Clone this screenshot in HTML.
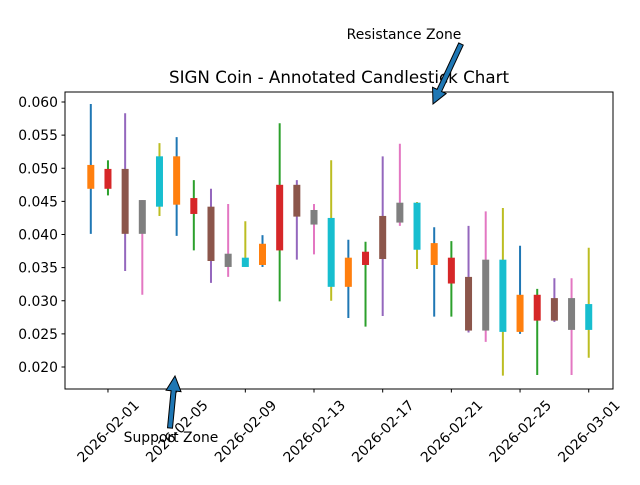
<!DOCTYPE html>
<html><head><meta charset="utf-8"><style>
body{margin:0;background:#fff;}
svg text{font-family:"DejaVu Sans","Liberation Sans",sans-serif;}
</style></head><body>
<svg id="chart" width="640" height="480" viewBox="0 0 640 480" xmlns="http://www.w3.org/2000/svg">
<rect x="0" y="0" width="640" height="480" fill="#fff"/>
<text x="339" y="83" font-size="16.7" text-anchor="middle" fill="#000">SIGN Coin - Annotated Candlestick Chart</text>
<g id="marks"></g>
<g id="axes"></g>
<rect x="65" y="92" width="548" height="297" fill="none" stroke="#000" stroke-width="1"/>
<g id="annot"></g>
</svg>
<script>
const dates = ["2026-01-31","2026-02-01","2026-02-02","2026-02-03","2026-02-04","2026-02-05","2026-02-06","2026-02-07","2026-02-08","2026-02-09","2026-02-10","2026-02-11","2026-02-12","2026-02-13","2026-02-14","2026-02-15","2026-02-16","2026-02-17","2026-02-18","2026-02-19","2026-02-20","2026-02-21","2026-02-22","2026-02-23","2026-02-24","2026-02-25","2026-02-26","2026-02-27","2026-02-28","2026-03-01"];
const opens  = [0.0469,0.0499,0.0499,0.0452,0.0442,0.0445,0.0455,0.0442,0.0371,0.0365,0.0354,0.0376,0.0475,0.0437,0.0425,0.0365,0.0374,0.0363,0.0418,0.0448,0.0387,0.0365,0.0336,0.0255,0.0362,0.0309,0.0309,0.0304,0.0304,0.0295];
const closes = [0.0505,0.0469,0.0401,0.0401,0.0518,0.0518,0.0431,0.0360,0.0351,0.0351,0.0386,0.0475,0.0427,0.0415,0.0321,0.0321,0.0354,0.0428,0.0448,0.0377,0.0354,0.0326,0.0255,0.0362,0.0253,0.0253,0.0270,0.0270,0.0256,0.0256];
const highs  = [0.0597,0.0512,0.0583,0.0452,0.0538,0.0547,0.0482,0.0469,0.0446,0.0420,0.0399,0.0568,0.0482,0.0446,0.0512,0.0392,0.0389,0.0518,0.0537,0.0449,0.0411,0.0390,0.0413,0.0435,0.0440,0.0383,0.0318,0.0334,0.0334,0.0380];
const lows   = [0.0401,0.0459,0.0345,0.0309,0.0428,0.0398,0.0376,0.0327,0.0336,0.0351,0.0351,0.0299,0.0362,0.0370,0.0300,0.0274,0.0261,0.0277,0.0413,0.0348,0.0276,0.0276,0.0252,0.0238,0.0187,0.0250,0.0188,0.0268,0.0188,0.0214];
const yTicks = [0.020,0.025,0.030,0.035,0.040,0.045,0.050,0.055,0.060];
const xTickLabels = ["2026-02-01","2026-02-05","2026-02-09","2026-02-13","2026-02-17","2026-02-21","2026-02-25","2026-03-01"];

const NS="http://www.w3.org/2000/svg";
const palette=["#1f77b4","#ff7f0e","#2ca02c","#d62728","#9467bd","#8c564b","#e377c2","#7f7f7f","#bcbd22","#17becf"];
const t0=Date.UTC(2026,0,31);
function dayIdx(s){const p=s.split("-");return (Date.UTC(+p[0],+p[1]-1,+p[2])-t0)/86400000;}
function xS(d){return 90.8+d*17.17;}
function yS(v){return 367-(v-0.020)*6625;}
function mk(tag,attrs,parent){const e=document.createElementNS(NS,tag);for(const k in attrs)e.setAttribute(k,attrs[k]);parent.appendChild(e);return e;}
const marks=document.getElementById("marks"),axes=document.getElementById("axes"),annot=document.getElementById("annot");
dates.forEach((d,i)=>{
  const x=xS(dayIdx(d));
  const w=mk("line",{x1:x,x2:x,y1:yS(highs[i]),y2:yS(lows[i]),stroke:palette[(2*i)%10],"stroke-width":2},marks);
  
  
  const top=yS(Math.max(opens[i],closes[i])),bot=yS(Math.min(opens[i],closes[i]));
  const b=mk("rect",{x:x-3.5,y:top,width:7,height:Math.max(bot-top,1),fill:palette[(2*i+1)%10]},marks);
  
  
});
yTicks.forEach(v=>{
  const y=yS(v);
  const t=mk("line",{x1:61.5,x2:65,y1:y,y2:y,stroke:"#000","stroke-width":1},axes);
  
  
  const l=mk("text",{x:58,y:y+5,"font-size":13.9,"text-anchor":"end",fill:"#000"},axes);
  l.textContent=v.toFixed(3);
  
  
});
xTickLabels.forEach(s=>{
  const x=xS(dayIdx(s));
  const t=mk("line",{x1:x,x2:x,y1:389,y2:392.5,stroke:"#000","stroke-width":1},axes);
  
  
  const l=mk("text",{x:0,y:5,"font-size":13.9,"text-anchor":"middle",fill:"#000",transform:`translate(${x},${431}) rotate(-45)`},axes);
  l.textContent=s;
  
  
});
function arrow(x1,y1,x2,y2,name){
  const dx=x2-x1,dy=y2-y1,L=Math.hypot(dx,dy),ang=Math.atan2(dy,dx)*180/Math.PI;
  const hl=15,hw=7.5,sw=2.5;
  const pts=[[0,-sw],[L-hl,-sw],[L-hl,-hw],[L,0],[L-hl,hw],[L-hl,sw],[0,sw]].map(p=>p.join(",")).join(" ");
  const a=mk("polygon",{points:pts,fill:"#1f77b4",stroke:"#000","stroke-width":1,transform:`translate(${x1},${y1}) rotate(${ang})`},annot);
  
  
}
arrow(461,44,433,104,'resistance-arrow');
arrow(170,428,175,376,'support-arrow');
const r=mk("text",{x:404,y:39,"font-size":13.9,"text-anchor":"middle",fill:"#000"},annot);
r.textContent="Resistance Zone";


const s=mk("text",{x:171,y:442,"font-size":13.9,"text-anchor":"middle",fill:"#000"},annot);
s.textContent="Support Zone";


</script>
</body></html>
